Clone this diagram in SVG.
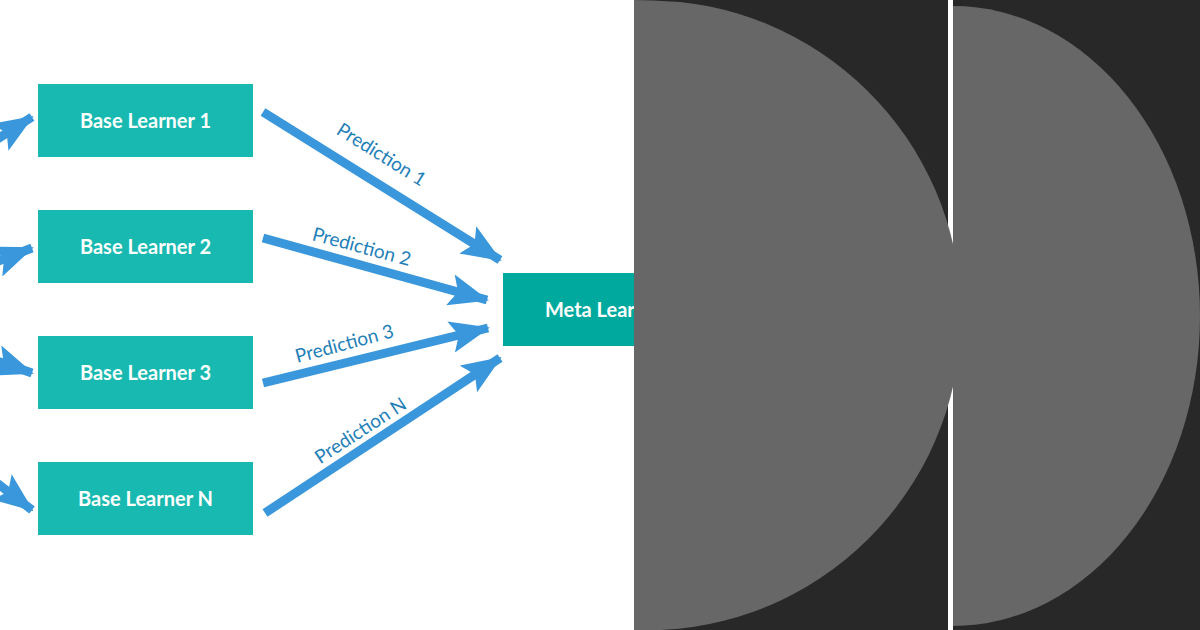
<svg xmlns="http://www.w3.org/2000/svg" width="1200" height="630" viewBox="0 0 1200 630">
<defs>
<marker id="ah" markerUnits="userSpaceOnUse" markerWidth="40" markerHeight="32" refX="38" refY="16" orient="auto"><path d="M0,0 L40,16 L0,32 L8,16 Z" fill="#3a97dc"/></marker>
<style>
.box{fill:#17b9b0}
.meta{fill:#00a99d}
.bt{font-family:Lato,"Liberation Sans",sans-serif;font-weight:bold;font-size:20px;fill:#fff;text-anchor:middle}
.lb{font-family:Lato,"Liberation Sans",sans-serif;font-size:19px;fill:#1f80b8;text-anchor:middle}
.c{stroke:#3a97dc;stroke-width:9;fill:none;marker-end:url(#ah)}
</style>
</defs>
<rect width="1200" height="630" fill="#fff"/>
<g id="connectors">
<line class="c" x1="-20" y1="150" x2="32" y2="117"/>
<line class="c" x1="-20" y1="268" x2="32" y2="248"/>
<line class="c" x1="-20" y1="355" x2="32" y2="373"/>
<line class="c" x1="-20" y1="470" x2="32" y2="510"/>
<line class="c" x1="263" y1="112" x2="500" y2="260"/>
<line class="c" x1="263" y1="238" x2="487" y2="300"/>
<line class="c" x1="263" y1="383" x2="488" y2="328"/>
<line class="c" x1="265" y1="513" x2="500" y2="358"/>
<text class="lb" transform="translate(378,160) rotate(32)">Prediction 1</text>
<text class="lb" transform="translate(360,253) rotate(15)">Prediction 2</text>
<text class="lb" transform="translate(346,350) rotate(-15)">Prediction 3</text>
<text class="lb" transform="translate(364,436) rotate(-33)">Prediction N</text>
</g>
<g id="b1"><rect class="box" x="38" y="84" width="215" height="73"/><text class="bt" x="145.5" y="128">Base Learner 1</text></g>
<g id="b2"><rect class="box" x="38" y="210" width="215" height="73"/><text class="bt" x="145.5" y="254">Base Learner 2</text></g>
<g id="b3"><rect class="box" x="38" y="336" width="215" height="73"/><text class="bt" x="145.5" y="380">Base Learner 3</text></g>
<g id="bn"><rect class="box" x="38" y="462" width="215" height="73"/><text class="bt" x="145.5" y="506">Base Learner N</text></g>
<g id="meta"><rect class="meta" x="503" y="273" width="140" height="73"/><text class="bt" x="545" y="317" text-anchor="start" style="text-anchor:start">Meta Learner</text></g>
<g id="panels">
<rect x="634" y="0" width="314" height="630" fill="#282828"/>
<rect x="953" y="0" width="247" height="630" fill="#282828"/>
<path d="M634,0 Q650,0 680,2 A314,315 0 0 1 634,630 Z" fill="#676767"/>
<path d="M953,6 A247,310 0 0 1 953,626 Z" fill="#676767"/>
</g>
</svg>
